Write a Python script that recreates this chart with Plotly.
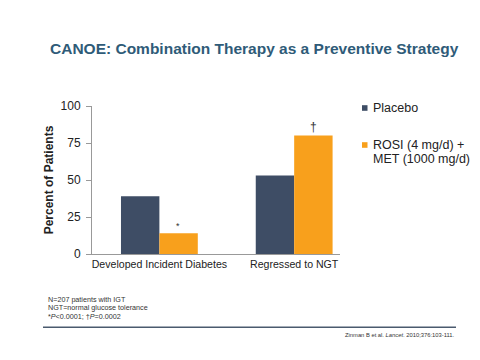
import plotly.graph_objects as go

categories = ["Developed Incident Diabetes", "Regressed to NGT"]
placebo = [39, 53]
rosi_met = [14, 80]
sig_marks = ["*", "†"]
y_ticks = [0, 25, 50, 75, 100]
series_names = ["Placebo", "ROSI (4 mg/d) +<br>MET (1000 mg/d)"]
colors = ["#3E4D65", "#F8A01C"]

OFF = 8  # page offset of the figure inside the browser window
FW, FH = 480 - OFF, 360 - OFF
L, R, T, B = 92 - OFF, 340 - OFF, 106 - OFF, 254 - OFF
W, H = R - L, B - T


def px(x):
    return (x - OFF - L) / W


def py(y):
    return (B - (y - OFF)) / H


fig = go.Figure()
fig.add_trace(go.Bar(x=categories, y=placebo, name=series_names[0],
                     marker=dict(color=colors[0], line=dict(width=0))))
fig.add_trace(go.Bar(x=categories, y=rosi_met, name=series_names[1],
                     marker=dict(color=colors[1], line=dict(width=0))))

for i, (v, m) in enumerate(zip(rosi_met, sig_marks)):
    fig.add_annotation(x=i, y=v, text=m, showarrow=False, xshift=19,
                       yshift=9 if m == "†" else 7,
                       font=dict(size=12 if m == "†" else 9, color="#333"),
                       xref="x", yref="y")

fig.update_layout(
    width=FW, height=FH,
    paper_bgcolor="white", plot_bgcolor="white",
    margin=dict(l=L, r=FW - R, t=T, b=FH - B),
    barmode="group", bargap=0.43, bargroupgap=0,
    font=dict(family="Liberation Sans, Arial, sans-serif", color="#222"),
    showlegend=False,
    xaxis=dict(range=[-0.5, 1.34], showline=True, linecolor="#999", linewidth=1,
               ticks="", tickfont=dict(size=10.6, color="#222"), showgrid=False,
               fixedrange=True),
    yaxis=dict(range=[0, 100], tickvals=y_ticks, showline=True, linecolor="#999",
               linewidth=1, ticks="outside", ticklen=5, tickcolor="#999",
               ticklabelstandoff=3,
               tickfont=dict(size=12, color="#222"), showgrid=False, zeroline=False,
               title=dict(text="<b>Percent of Patients</b>", font=dict(size=12, color="#222"),
                          standoff=4)),
)

# Footer rule (thin filled rectangle)
fig.add_shape(type="rect", xref="paper", yref="paper",
              x0=px(43), x1=px(456), y0=py(328), y1=py(326.5),
              fillcolor="#4A5A6E", line=dict(width=0))

# Legend (drawn manually so it doesn't shift the plot area)
leg_items = [(series_names[0], colors[0], 108), (series_names[1], colors[1], 145)]
for name, col, yc in leg_items:
    fig.add_shape(type="rect", xref="paper", yref="paper",
                  x0=px(362), x1=px(367.5), y0=py(yc + 2.8), y1=py(yc - 2.8),
                  fillcolor=col, line=dict(width=0))
    lines = name.split("<br>")
    for k, ln in enumerate(lines):
        fig.add_annotation(text=ln, xref="paper", yref="paper", x=px(371),
                           y=py(yc + k * 14), showarrow=False, xanchor="left",
                           yanchor="middle", font=dict(size=12.5, color="#222"))

fig.add_annotation(text="<b>CANOE: Combination Therapy as a Preventive Strategy</b>",
                   xref="paper", yref="paper", x=px(254), y=py(48),
                   showarrow=False, font=dict(size=15.5, color="#2F5B78"),
                   xanchor="center", yanchor="middle")

foot_lines = ["N=207 patients with IGT", "NGT=normal glucose tolerance",
              "*<i>P</i><0.0001; †<i>P</i>=0.0002"]
for k, ln in enumerate(foot_lines):
    fig.add_annotation(text=ln, xref="paper", yref="paper", x=px(46),
                       y=py(299 + k * 8.6), showarrow=False, xanchor="left",
                       yanchor="middle", font=dict(size=7.2, color="#333"))

fig.add_annotation(text="Zinman B et al. <i>Lancet</i>. 2010;376:103-111.",
                   xref="paper", yref="paper", x=px(456), y=py(335),
                   showarrow=False, xanchor="right", yanchor="middle",
                   font=dict(size=5.8, color="#333"))

fig.write_html("out.html")
